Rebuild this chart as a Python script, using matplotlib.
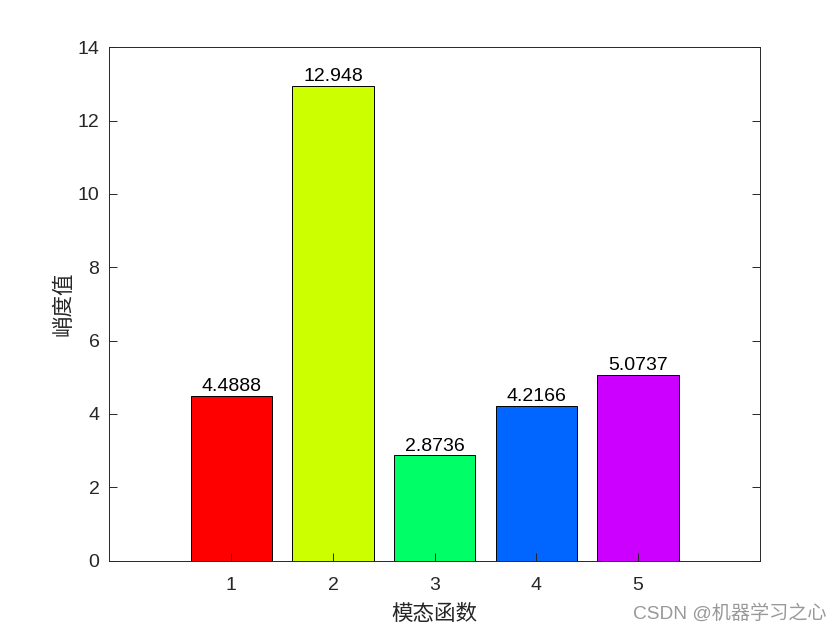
import matplotlib
matplotlib.use("Agg")
import matplotlib.pyplot as plt

plt.rcParams['font.family'] = ['Liberation Sans', 'Noto Sans CJK SC', 'DejaVu Sans']

# data
modes = [1, 2, 3, 4, 5]
kurtosis = [4.4888, 12.948, 2.8736, 4.2166, 5.0737]
labels = ['4.4888', '12.948', '2.8736', '4.2166', '5.0737']
colors = ['#FF0000', '#CCFF00', '#00FF66', '#0066FF', '#CC00FF']

fig = plt.figure(figsize=(8.4, 6.3), dpi=100)
ax = fig.add_axes([0.13, 0.11, 0.775, 0.815])

ax.bar(modes, kurtosis, width=0.8, color=colors, edgecolor='black', linewidth=0.7)
for x, v, s in zip(modes, kurtosis, labels):
    ax.text(x, v + 0.02, s, ha='center', va='bottom', fontsize=14)

ax.set_xlim(-0.2, 6.2)
ax.set_ylim(0, 14)
ax.set_xticks(modes)
ax.set_yticks(range(0, 15, 2))
ax.tick_params(direction='in', labelsize=14, length=6, width=0.7,
               colors='#262626', labelcolor='#262626')
ax.tick_params(axis='x', top=False, pad=12)
ax.tick_params(axis='y', right=True, pad=7)
for sp in ax.spines.values():
    sp.set_linewidth(0.7)
    sp.set_color('#262626')

ax.set_xlabel('模态函数', fontsize=15.5, color='#262626', family=['Noto Sans CJK SC'], labelpad=6)
ax.set_ylabel('峭度值', fontsize=15.5, color='#262626', family=['Noto Sans CJK SC'], labelpad=2)

fig.text(0.984, 0.012, 'CSDN @机器学习之心', ha='right', va='bottom', fontsize=13.8,
         color='#999999', family=['Liberation Sans', 'Noto Sans CJK SC'])

fig.savefig('out.png', dpi=100, facecolor='white')
